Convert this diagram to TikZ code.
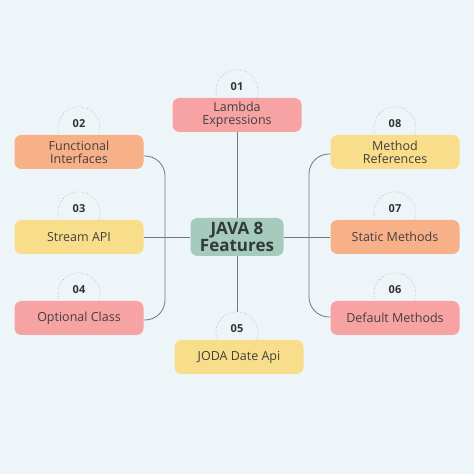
\documentclass[tikz,border=0pt]{standalone}
\usepackage{fontspec}
\setmainfont{Open Sans}
\usetikzlibrary{calc}
\definecolor{bgc}{HTML}{EEF5F8}
\definecolor{pinkc}{HTML}{F7A3A4}
\definecolor{orc}{HTML}{F8B088}
\definecolor{yelc}{HTML}{F8DD8A}
\definecolor{hubc}{HTML}{A6CABD}
\definecolor{hubtext}{HTML}{2E3B38}
\definecolor{ink}{HTML}{433F3F}
\definecolor{wire}{HTML}{6F7B80}
\tikzset{
  box/.style={rounded corners=7pt,minimum width=129pt,minimum height=34pt,inner sep=2pt,align=center,font=\fontsize{12.5}{13}\selectfont,text=ink},
  pbox/.style={box,fill=pinkc},
  obox/.style={box,fill=orc},
  ybox/.style={box,fill=yelc},
  hub/.style={box,fill=hubc,minimum width=93pt,minimum height=38pt,font=\bfseries\fontsize{17}{16.5}\selectfont,text=hubtext},
  num/.style={font=\bfseries\fontsize{11}{11}\selectfont,text=ink!80!black},
  dots/.style={draw=gray!70,dotted,line width=0.6pt},
  conn/.style={draw=wire,line width=0.8pt,rounded corners=20pt},
}
\begin{document}
\begin{tikzpicture}[x=1pt,y=1pt]
\fill[bgc] (0,0) rectangle (474,474);
\node[hub] (jf) at (237,237) {JAVA 8\\Features};
\node[pbox] (le) at (237,359) {Lambda\\Expressions};
\node[obox] (fi) at (79,322) {Functional\\Interfaces};
\node[ybox] (sa) at (79,237) {Stream API};
\node[pbox] (oc) at (79,156) {Optional Class};
\node[ybox] (jd) at (239,117) {JODA Date Api};
\node[pbox] (dm) at (395,156) {Default Methods};
\node[obox] (sm) at (395,237) {Static Methods};
\node[ybox] (mr) at (395,322) {Method\\References};
% numbers with dotted half circles
\foreach \bx/\n in {le/01,fi/02,sa/03,oc/04,dm/06,sm/07,mr/08} {
  \coordinate (c\n) at ([yshift=7pt]\bx.north);
  \draw[dots] (c\n) ++(-20:21pt) arc[start angle=-20,end angle=200,radius=21pt];
  \node[num] (n\n) at ([yshift=4pt]c\n) {\n};
}
\coordinate (c05) at ([xshift=-2pt,yshift=7pt]jd.north);
\draw[dots] (c05) ++(-20:21pt) arc[start angle=-20,end angle=200,radius=21pt];
\node[num] (n05) at ([yshift=4pt]c05) {05};
% connectors
\coordinate (lbus) at (165,237);
\coordinate (rbus) at (309,237);
\draw[conn] ([yshift=-4pt]fi.east) -| (lbus) |- ([yshift=-2pt]oc.east);
\draw[conn] ([yshift=-2pt]mr.west) -| (rbus) |- ([yshift=1pt]dm.west);
\draw[conn] (sa.east) -- (jf.west);
\draw[conn] (jf.east) -- (sm.west);
\draw[conn] (le.south) -- (jf.north);
\draw[conn] (jf.south) -- ([yshift=21pt]c05);
\end{tikzpicture}
\end{document}
